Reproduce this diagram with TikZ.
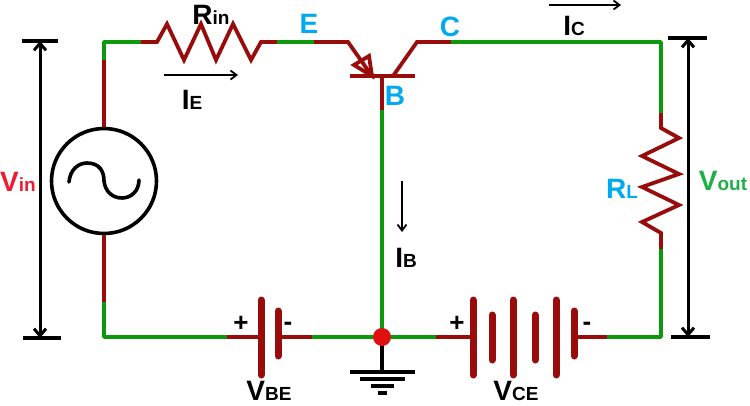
\documentclass[tikz,border=0pt]{standalone}
\usepackage{fontspec}
\setmainfont{Liberation Sans}
\usetikzlibrary{arrows.meta}
\definecolor{wirered}{RGB}{153,12,12}
\definecolor{wiregreen}{RGB}{12,154,12}
\definecolor{labelblue}{RGB}{0,170,240}
\definecolor{vinred}{RGB}{237,28,50}
\definecolor{voutgreen}{RGB}{30,175,75}
\definecolor{dotred}{RGB}{224,16,16}
\newcommand{\biglabel}[2]{\fontsize{28}{28}\selectfont\bfseries #1\fontsize{19}{19}\selectfont #2}
\tikzset{
	green wire/.style={draw=wiregreen, line width=3.8pt, line join=round},
	red wire/.style={draw=wirered, line width=3.8pt, line join=miter},
	long plate/.style={draw=wirered, line width=7pt, line cap=round},
	short plate/.style={draw=wirered, line width=7pt, line cap=round},
	black line/.style={draw=black, line width=3.4pt},
	measure/.style={draw=black, line width=3pt, {Straight Barb[length=7pt,width=12pt]}-{Straight Barb[length=7pt,width=12pt]}},
	current/.style={draw=black, line width=1.8pt, -{Straight Barb[length=6pt,width=9pt]}},
	txt/.style={anchor=base, inner sep=0pt, outer sep=0pt},
	sign/.style={anchor=center, inner sep=0pt, font=\fontsize{26}{26}\selectfont\bfseries}
}
\begin{document}
\begin{tikzpicture}[x=1pt,y=-1pt]
	\useasboundingbox (0,0) rectangle (750,405);
	% corners and junctions
	\coordinate (topleft) at (104,42);
	\coordinate (topright) at (661,42);
	\coordinate (botleft) at (104,337);
	\coordinate (botright) at (661,337);
	\coordinate (ground) at (382,337);
	\coordinate (base) at (382,76);
	% input side
	\coordinate (rinA) at (141,42);
	\coordinate (rinB) at (277,42);
	\coordinate (emitA) at (314,42);
	\coordinate (emitB) at (348,42);
	\coordinate (emitC) at (372,76);
	\coordinate (collA) at (393,76);
	\coordinate (collB) at (417,42);
	\coordinate (collC) at (451,42);
	\coordinate (baseA) at (382,110);
	\coordinate (srcA) at (104,60);
	\coordinate (srcB) at (104,302);
	\coordinate (rlA) at (661,113);
	\coordinate (rlB) at (661,249);
	\coordinate (vbeA) at (227,337);
	\coordinate (vbeB) at (312,337);
	\coordinate (vceA) at (436,337);
	\coordinate (vceB) at (607,337);
	% ac source
	\node[circle, draw=black, line width=3.6pt, minimum size=105pt, inner sep=0pt] (source) at (104,181) {};
	\draw[green wire] (rinA) -- (topleft) -- (srcA);
	\draw[green wire] (srcB) -- (botleft) -- (vbeA);
	\draw[red wire] (srcA) -- (source.north);
	\draw[red wire] (source.south) -- (srcB);
	\draw[black, line width=3.6pt, line cap=round] (69,182) .. controls (70,170) and (78,163) .. (87,163) .. controls (100,163) and (104,172) .. (104,181) .. controls (105,191) and (112,198) .. (122,198) .. controls (131,198) and (139,191) .. (139,180);
	% input resistor
	\draw[red wire] (rinA) -- (157,42) -- (167,24) -- (184,60) -- (201,24) -- (216,60) -- (233,24) -- (251,60) -- (261,42) -- (rinB);
	\draw[green wire] (rinB) -- (emitA);
	% transistor
	\draw[red wire] (emitA) -- (emitB) -- (emitC);
	\draw[red wire] (354,65) -- (372,76) -- (369,56) -- cycle;
	\draw[red wire] (350,76) -- (415,76);
	\draw[red wire] (collA) -- (collB) -- (collC);
	\draw[red wire] (base) -- (baseA);
	\draw[green wire] (baseA) -- (ground);
	\draw[green wire] (collC) -- (topright) -- (rlA);
	% load resistor
	\draw[red wire] (rlA) -- (661,128) -- (679,138) -- (642,156) -- (679,174) -- (642,187) -- (679,205) -- (642,222) -- (661,233) -- (rlB);
	\draw[green wire] (rlB) -- (botright) -- (vceB);
	% base battery
	\draw[red wire] (vbeA) -- (261,337);
	\draw[long plate] (261,300) -- (261,375);
	\draw[short plate] (278,311) -- (278,356);
	\draw[red wire] (278,337) -- (vbeB);
	\draw[green wire] (vbeB) -- (vceA);
	% collector battery
	\draw[red wire] (vceA) -- (473,337);
	\draw[long plate] (473,300) -- (473,375);
	\draw[short plate] (492,315) -- (492,360);
	\draw[long plate] (513,300) -- (513,375);
	\draw[short plate] (535,315) -- (535,360);
	\draw[long plate] (556,300) -- (556,375);
	\draw[short plate] (574,311) -- (574,356);
	\draw[red wire] (574,337) -- (vceB);
	% ground
	\draw[black line] (ground) -- (382,372);
	\draw[black line] (350,372) -- (415,372);
	\draw[black line] (360,379) -- (405,379);
	\draw[black line] (371,386) -- (394,386);
	\draw[black line] (378,393) -- (387,393);
	\node[circle, fill=dotred, minimum size=18pt, inner sep=0pt] (dot) at (ground) {};
	% measuring arrows
	\coordinate (vinTop) at (40,41);
	\coordinate (vinBot) at (40,338);
	\coordinate (voutTop) at (688,38);
	\coordinate (voutBot) at (688,337);
	\draw[black line] (22,41) -- (58,41);
	\draw[black line] (23,338) -- (61,338);
	\draw[measure] (vinTop) -- (vinBot);
	\draw[black line] (668,38) -- (707,38);
	\draw[black line] (671,337) -- (710,337);
	\draw[measure] (voutTop) -- (voutBot);
	% currents
	\coordinate (ieA) at (164,75);
	\coordinate (ieB) at (238,75);
	\coordinate (icA) at (549,5);
	\coordinate (icB) at (621,5);
	\coordinate (ibA) at (402,181);
	\coordinate (ibB) at (402,232);
	\draw[current] (ieA) -- (ieB);
	\draw[current] (icA) -- (icB);
	\draw[current] (ibA) -- (ibB);
	% labels
	\node[txt] (rin) at (211,24) {\biglabel{R}{in}};
	\node[txt, text=labelblue] (emit) at (309,33) {\biglabel{E}{}};
	\node[txt, text=labelblue] (coll) at (450,36) {\biglabel{C}{}};
	\node[txt, text=labelblue] (bas) at (395,105) {\biglabel{B}{}};
	\node[txt] (ie) at (192,109) {\biglabel{I}{E}};
	\node[txt] (ic) at (574,35) {\biglabel{I}{C}};
	\node[txt] (ib) at (406,267) {\biglabel{I}{B}};
	\node[txt, text=labelblue] (rl) at (622,198) {\biglabel{R}{L}};
	\node[txt, text=voutgreen] (vout) at (723,190) {\biglabel{V}{out}};
	\node[txt, text=vinred] (vin) at (18,191) {\biglabel{V}{in}};
	\node[txt] (vbe) at (269,400) {\biglabel{V}{BE}};
	\node[txt] (vce) at (516,400) {\biglabel{V}{CE}};
	\node[sign] (plusA) at (241,324) {+};
	\node[sign] (minusA) at (288,326) {-};
	\node[sign] (plusB) at (457,324) {+};
	\node[sign] (minusB) at (587,326) {-};
\end{tikzpicture}
\end{document}
